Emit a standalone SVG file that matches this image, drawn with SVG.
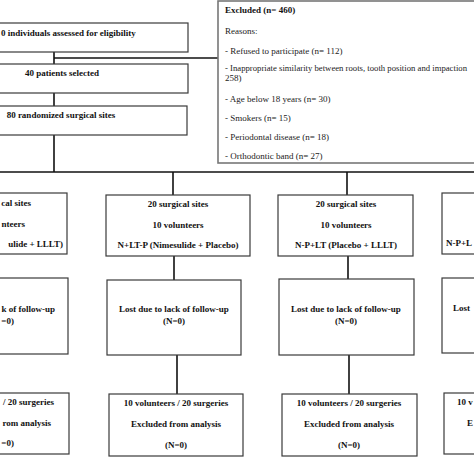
<svg xmlns="http://www.w3.org/2000/svg" width="474" height="474" viewBox="0 0 474 474">
<style>
.box{fill:#fff;stroke:#3a3a3a;stroke-width:1.2}
.exc{fill:#fff;stroke:#777;stroke-width:1.6}
.t{font-family:"Liberation Serif","Times New Roman",serif;font-size:9px;font-weight:bold;fill:#111}
.r{font-family:"Liberation Serif","Times New Roman",serif;font-size:9px;fill:#222}
.m{text-anchor:middle}
.e{text-anchor:end}
.c{stroke:#111;stroke-width:1.6;fill:none}
</style>
<rect width="474" height="474" fill="#fff"/>
<g id="connectors">
<line class="c" x1="54" y1="52" x2="54" y2="64"/>
<line class="c" x1="54" y1="58" x2="218" y2="58"/>
<line class="c" x1="54" y1="135" x2="54" y2="172"/>
<line class="c" x1="54" y1="93" x2="54" y2="106"/>
<line class="c" x1="0" y1="172" x2="474" y2="172"/>
<line class="c" x1="173" y1="172" x2="173" y2="195"/>
<line class="c" x1="174" y1="256" x2="174" y2="280"/>
<line class="c" x1="177" y1="355" x2="177" y2="394"/>
<line class="c" x1="347" y1="172" x2="347" y2="195"/>
<line class="c" x1="348" y1="256" x2="348" y2="279"/>
<line class="c" x1="349" y1="355" x2="349" y2="394"/>
</g>
<g id="assessed">
<rect class="box" x="-2" y="23" width="190" height="29"/>
<text class="t" x="1" y="36">0 individuals assessed for eligibility</text>
</g>
<g id="selected">
<rect class="box" x="-2" y="64" width="190" height="29"/>
<text class="t m" x="62" y="75.5">40 patients selected</text>
</g>
<g id="randomized">
<rect class="box" x="-2" y="106" width="189" height="29"/>
<text class="t m" x="61" y="117.5">80 randomized surgical sites</text>
</g>
<g id="excluded">
<rect class="exc" x="218" y="1" width="270" height="162"/>
<text class="t" x="225" y="12.5">Excluded (n= 460)</text>
<text class="r" x="225" y="34">Reasons:</text>
<text class="r" x="225" y="54">- Refused to participate (n= 112)</text>
<text class="r" x="225" y="70.5" textLength="242" lengthAdjust="spacingAndGlyphs">- Inappropriate similarity between roots, tooth position and impaction</text>
<text class="r" x="225" y="80.5">258)</text>
<text class="r" x="225" y="102">- Age below 18 years (n= 30)</text>
<text class="r" x="225" y="120.5">- Smokers (n= 15)</text>
<text class="r" x="225" y="140">- Periodontal disease (n= 18)</text>
<text class="r" x="225" y="159">- Orthodontic band (n= 27)</text>
</g>
<g id="groupA">
<rect class="box" x="-80" y="193" width="147" height="61"/>
<text class="t e" x="31" y="206">cal sites</text>
<text class="t e" x="25" y="227">nteers</text>
<text class="t e" x="63" y="247">ulide + LLLT)</text>
</g>
<g id="groupB">
<rect class="box" x="106" y="195" width="144" height="61"/>
<text class="t m" x="178" y="207">20 surgical sites</text>
<text class="t m" x="178" y="228">10 volunteers</text>
<text class="t m" x="178" y="248">N+LT-P (Nimesulide + Placebo)</text>
</g>
<g id="groupC">
<rect class="box" x="278" y="195" width="135" height="61"/>
<text class="t m" x="346" y="207">20 surgical sites</text>
<text class="t m" x="346" y="228">10 volunteers</text>
<text class="t m" x="346" y="248">N-P+LT (Placebo + LLLT)</text>
</g>
<g id="groupD">
<rect class="box" x="442" y="193" width="120" height="61"/>
<text class="t" x="446" y="246">N-P+L</text>
</g>
<g id="lostA">
<rect class="box" x="-80" y="278" width="148" height="76"/>
<text class="t e" x="55" y="312">k of follow-up</text>
<text class="t e" x="14" y="323.5">=0)</text>
</g>
<g id="lostB">
<rect class="box" x="107" y="280" width="134" height="75"/>
<text class="t m" x="174" y="312">Lost due to lack of follow-up</text>
<text class="t m" x="174" y="323.5">(N=0)</text>
</g>
<g id="lostC">
<rect class="box" x="279" y="279" width="135" height="76"/>
<text class="t m" x="346" y="312">Lost due to lack of follow-up</text>
<text class="t m" x="346" y="323.5">(N=0)</text>
</g>
<g id="lostD">
<rect class="box" x="442" y="278" width="120" height="75"/>
<text class="t" x="453" y="311">Lost</text>
</g>
<g id="analysisA">
<rect class="box" x="-80" y="393" width="149" height="61"/>
<text class="t e" x="54" y="405">/ 20 surgeries</text>
<text class="t e" x="51" y="426">rom analysis</text>
<text class="t e" x="14" y="446">=0)</text>
</g>
<g id="analysisB">
<rect class="box" x="109" y="394" width="134" height="62"/>
<text class="t m" x="176" y="406">10 volunteers / 20 surgeries</text>
<text class="t m" x="176" y="427">Excluded from analysis</text>
<text class="t m" x="176" y="448">(N=0)</text>
</g>
<g id="analysisC">
<rect class="box" x="282" y="394" width="135" height="62"/>
<text class="t m" x="349" y="406">10 volunteers / 20 surgeries</text>
<text class="t m" x="349" y="427">Excluded from analysis</text>
<text class="t m" x="349" y="448">(N=0)</text>
</g>
<g id="analysisD">
<rect class="box" x="444" y="393" width="120" height="61"/>
<text class="t" x="457" y="405">10 v</text>
<text class="t" x="467" y="426">E</text>
</g>
</svg>
